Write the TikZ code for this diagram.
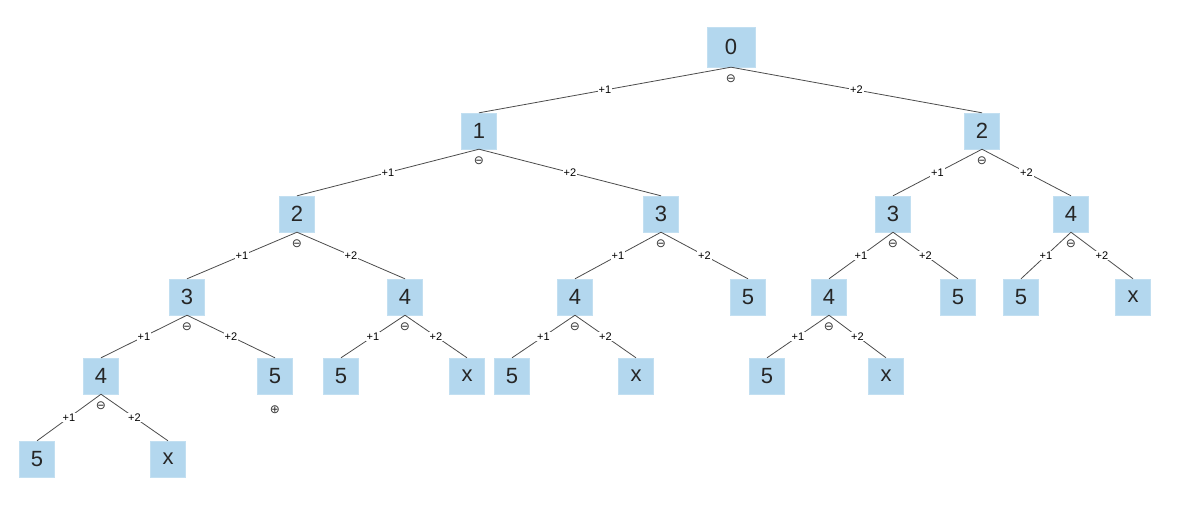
\documentclass[tikz,border=0pt]{standalone}
\usepackage{fontspec}
\setmainfont{Liberation Sans}
\newfontfamily\symf{DejaVu Sans}
\definecolor{boxblue}{HTML}{B3D7EE}
\begin{document}
\begin{tikzpicture}[x=1pt,y=-1pt,
  nd/.style={fill=boxblue,draw=boxblue!80!white,minimum width=35pt,minimum height=36pt,inner sep=0pt,font=\fontsize{22}{22}\selectfont,text=black!85},
  lb/.style={fill=white,inner sep=1pt,font=\fontsize{11}{11}\selectfont,pos=0.5},
  sg/.style={font=\symf\fontsize{12}{12}\selectfont,inner sep=0pt,text=black!80},
  ed/.style={draw=black!70,line width=0.8pt}]
\useasboundingbox (0,0) rectangle (1200,517);
\node[nd,minimum width=48pt,minimum height=40pt] (r) at (731,47) {0};
\node[nd] (a) at (479,131) {1};
\node[nd] (b) at (982,131) {2};
\node[nd] (aa) at (297,214) {2};
\node[nd] (ab) at (661,214) {3};
\node[nd] (ba) at (893,214) {3};
\node[nd] (bb) at (1071,214) {4};
\node[nd] (aaa) at (187,297) {3};
\node[nd] (aab) at (405,297) {4};
\node[nd] (aba) at (575,297) {4};
\node[nd] (abb) at (748,297) {5};
\node[nd] (baa) at (829,297) {4};
\node[nd] (bab) at (958,297) {5};
\node[nd] (bba) at (1021,297) {5};
\node[nd] (bbb) at (1133,297) {x};
\node[nd] (aaaa) at (101,376) {4};
\node[nd] (aaab) at (275,376) {5};
\node[nd] (aaba) at (341,376) {5};
\node[nd] (aabb) at (467,376) {x};
\node[nd] (abaa) at (512,376) {5};
\node[nd] (abab) at (636,376) {x};
\node[nd] (baaa) at (767,376) {5};
\node[nd] (baab) at (886,376) {x};
\node[nd] (aaaaa) at (37,459) {5};
\node[nd] (aaaab) at (168,459) {x};
\foreach \p/\c/\d in {r/a/b,a/aa/ab,b/ba/bb,aa/aaa/aab,ab/aba/abb,ba/baa/bab,bb/bba/bbb,aaa/aaaa/aaab,aab/aaba/aabb,aba/abaa/abab,baa/baaa/baab,aaaa/aaaaa/aaaab}{
  \draw[ed] (\p.south) -- node[lb]{+1} (\c.north);
  \draw[ed] (\p.south) -- node[lb]{+2} (\d.north);
  \node[sg] at ([yshift=-12pt]\p.south) {⊖};
}
\node[sg] at ([yshift=-16pt]aaab.south) {⊕};
\end{tikzpicture}
\end{document}
